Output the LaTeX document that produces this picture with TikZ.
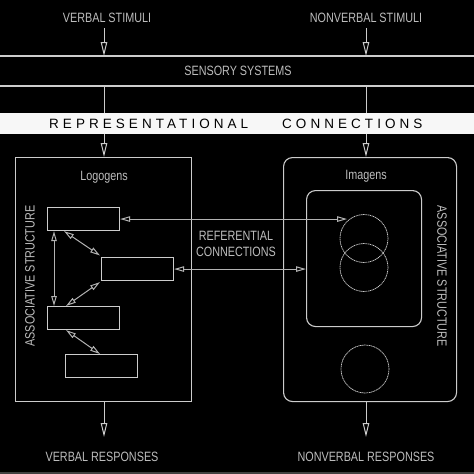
\documentclass[tikz,border=0pt]{standalone}
\usepackage{fontspec}
\setmainfont{Liberation Sans}[FakeStretch=0.80]
\newfontfamily\bandfont{Liberation Sans}[LetterSpace=30]
\usetikzlibrary{arrows.meta}
\definecolor{lc}{gray}{0.80}
\definecolor{ac}{gray}{0.70}
\definecolor{tc}{gray}{0.74}
\definecolor{cc}{gray}{0.78}
\definecolor{bandc}{gray}{0.97}
\begin{document}
\begin{tikzpicture}[x=1pt,y=-1pt,
  ln/.style={draw=lc, line width=1pt},
  arr/.style={ln, -{Triangle[open,length=14pt,width=6.5pt]}},
  dbl/.style={draw=ac, line width=1pt, {Triangle[open,length=10pt,width=5.5pt]}-{Triangle[open,length=10pt,width=5.5pt]}},
  lbl/.style={text=tc, font=\fontsize{13.5}{16}\selectfont, inner sep=0pt},
  boxa/.style={draw=lc, line width=1.1pt, anchor=north west, inner sep=0pt},
  wbox/.style={boxa, minimum width=72pt, minimum height=23pt},
  circ/.style={circle, draw=cc, dash pattern=on 1.2pt off 0.6pt, line width=0.75pt, minimum size=48pt, inner sep=0pt},
  bandtxt/.style={text=black, font=\bandfont\fontsize{13.5}{15}\selectfont, inner sep=0pt, anchor=west}
]
\fill[black] (0,0) rectangle (474,474);
\useasboundingbox (0,0) rectangle (474,474);
\fill[white!25!black] (0,471.5) rectangle (474,474);

\coordinate (colL) at (104,0);
\coordinate (colR) at (366,0);

% top labels
\node[lbl] (vs) at (107,18) {VERBAL STIMULI};
\node[lbl] (nvs) at (366,18) {NONVERBAL STIMULI};

% sensory systems lines
\coordinate (l1w) at (0,56);
\coordinate (l1e) at (474,56);
\coordinate (l2w) at (0,86);
\coordinate (l2e) at (474,86);
\draw[ln, line width=1.5pt] (l1w) -- (l1e);
\draw[ln, line width=1.5pt] (l2w) -- (l2e);
\node[lbl] (ss) at (238,71) {SENSORY SYSTEMS};

\draw[arr] ([yshift=-5pt]vs.south -| colL) -- (l1w -| colL);
\draw[arr] ([yshift=-5pt]nvs.south -| colR) -- (l1w -| colR);

% band
\node[fill=bandc, minimum width=474pt, minimum height=20.6pt, inner sep=0pt, anchor=north west] (band) at (0,112.7) {};
\node[bandtxt] (rep) at (49,123.5) {REPRESENTATIONAL};
\node[bandtxt] (con) at (282,123.5) {CONNECTIONS};

\draw[ln] (l2w -| colL) -- (band.north -| colL);
\draw[ln] (l2w -| colR) -- (band.north -| colR);

% main boxes
\node[boxa, minimum width=176pt, minimum height=244pt] (logo) at (15,157) {};
\node[boxa, rounded corners=9pt, minimum width=173pt, minimum height=244pt] (imag) at (283,157) {};
\node[boxa, rounded corners=9pt, minimum width=115pt, minimum height=136pt] (inner) at (306,190) {};

\draw[arr] (band.south -| colL) -- (logo.north -| colL);
\draw[arr] (band.south -| colR) -- (imag.north -| colR);

\node[lbl] (logol) at (104,177) {Logogens};
\node[lbl] (imagl) at (366,176) {Imagens};
\node[lbl, rotate=90] (asl) at (30,276) {ASSOCIATIVE STRUCTURE};
\node[lbl, rotate=-90] (asr) at (442,276) {ASSOCIATIVE STRUCTURE};

% logogen boxes
\node[wbox] (R1) at (47,207) {};
\node[wbox] (R2) at (101,257) {};
\node[wbox] (R3) at (47,306) {};
\node[wbox] (R4) at (65,354) {};

\draw[dbl] ([xshift=7pt]R1.south west) -- ([xshift=7pt]R3.north west);
\draw[dbl] ([xshift=17pt]R1.south west) -- ([shift={(-1pt,1.5pt)}]R2.north west);
\draw[dbl] ([shift={(-1pt,-1pt)}]R2.south west) -- ([xshift=19pt]R3.north west);
\draw[dbl] ([xshift=19pt]R3.south west) -- ([xshift=35pt]R4.north west);

% imagen circles
\node[circ] (C1) at (364,238.5) {};
\node[circ] (C2) at (364,267.5) {};
\node[circ] (C3) at (365,369) {};

% referential connections
\node[lbl, align=center] (refl) at (236,244) {REFERENTIAL\\CONNECTIONS};
\coordinate (t1) at ([xshift=7.5pt]C1.west);
\draw[dbl] (R1.east) -- (R1.east -| t1);
\draw[dbl] (R2.east) -- (R2.east -| inner.west);

% responses
\node[lbl] (vr) at (102,457) {VERBAL RESPONSES};
\node[lbl] (nvr) at (366,457) {NONVERBAL RESPONSES};
\draw[arr] (logo.south -| colL) -- ([yshift=15pt]vr.north -| colL);
\draw[arr] (imag.south -| colR) -- ([yshift=15pt]nvr.north -| colR);
\end{tikzpicture}
\end{document}
